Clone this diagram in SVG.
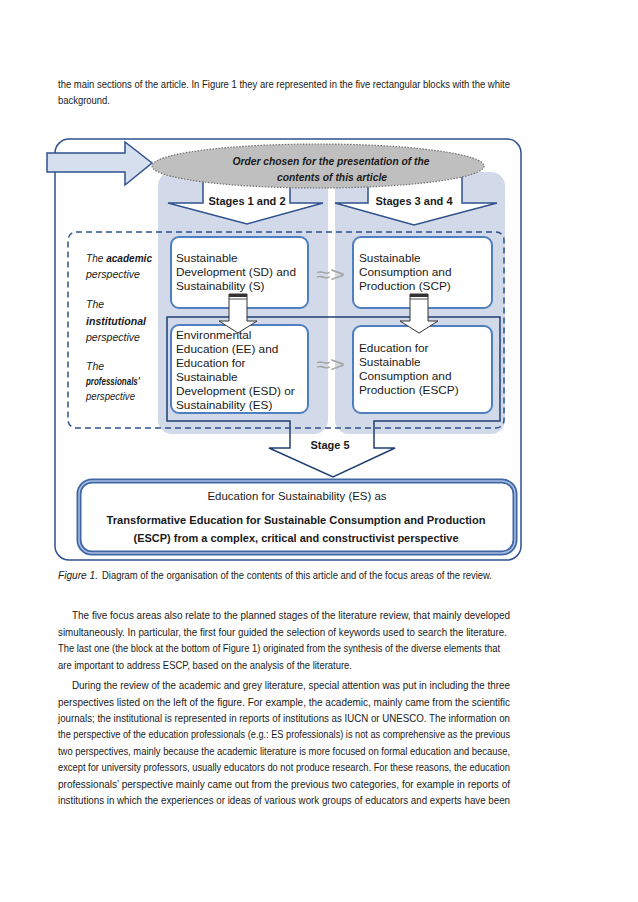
<svg xmlns="http://www.w3.org/2000/svg" width="638" height="902" viewBox="0 0 638 902">
<style>
text{font-family:"Liberation Sans",Arial,sans-serif;fill:#1a1a1a}
.p{font-size:11.8px}
.bx{font-size:11.8px}
.pers{font-size:10.5px;font-style:italic}
.lbl{font-size:11px;font-weight:bold}
.box{fill:#fff;stroke:#4f7fc0;stroke-width:2}
.col{fill:#d2dae9}
.frame{fill:none;stroke:#2f528f;stroke-width:1.5}
.sarrow{fill:#fff;stroke:#2f528f;stroke-width:1.5}
.small{fill:#fff;stroke:#333;stroke-width:1}
.apx{font-size:22px;fill:#a6a6a6}
</style>
<rect width="638" height="902" fill="#fff"/>

<g id="top-text">
<text class="p" x="58" y="88" textLength="452" lengthAdjust="spacingAndGlyphs">the main sections of the article. In Figure 1 they are represented in the five rectangular blocks with the white</text>
<text class="p" x="58" y="104" textLength="52" lengthAdjust="spacingAndGlyphs">background.</text>
</g>

<g id="frame">
<rect class="frame" x="55" y="139" width="466" height="421" rx="14"/>
</g>

<g id="columns">
<rect class="col" x="158" y="172" width="170" height="262" rx="14"/>
<rect class="col" x="335" y="172" width="170" height="262" rx="14"/>
</g>

<g id="connectors">
<polygon id="stages12" class="sarrow" points="203,176 290,176 290,203 323,203 247,224 168,203 203,203"/>
<polygon id="stages34" class="sarrow" points="368,176 462,176 462,203 497,203 414,225 335,203 368,203"/>
<polygon id="stage5" fill="none" stroke="#1f3f74" stroke-width="1.5" points="167,317 500,317 500,421 374,421 374,448 395,448 333,477 269,448 290,448 290,421 167,421"/>
</g>

<g id="big-arrow">
<polygon points="47,153 125,153 125,142 152,163 125,185 125,172 47,172" fill="#d6dfee" stroke="#2f528f" stroke-width="1.5"/>
</g>

<g id="ellipse">
<ellipse cx="318" cy="166" rx="166" ry="22" fill="#bfbfbf" stroke="#6f6f6f" stroke-width="1.2" stroke-dasharray="1.5 1.5"/>
<text x="331" y="165" text-anchor="middle" font-size="11" font-weight="bold" font-style="italic" textLength="197" lengthAdjust="spacingAndGlyphs">Order chosen for the presentation of the</text>
<text x="332" y="181" text-anchor="middle" font-size="11" font-weight="bold" font-style="italic" textLength="110" lengthAdjust="spacingAndGlyphs">contents of this article</text>
</g>

<g id="stage-labels">
<text class="lbl" x="247" y="205" text-anchor="middle">Stages 1 and 2</text>
<text class="lbl" x="414" y="205" text-anchor="middle">Stages 3 and 4</text>
<text class="lbl" x="330" y="449" text-anchor="middle">Stage 5</text>
</g>

<g id="perspectives">
<rect x="68" y="232" width="436" height="196" rx="8" fill="none" stroke="#2f528f" stroke-width="1.5" stroke-dasharray="6 4"/>
<text class="pers" x="86" y="262" textLength="66" lengthAdjust="spacingAndGlyphs"><tspan>The </tspan><tspan font-weight="bold">academic</tspan></text>
<text class="pers" x="86" y="278" textLength="54" lengthAdjust="spacingAndGlyphs">perspective</text>
<text class="pers" x="86" y="308">The</text>
<text class="pers" x="86" y="325" font-weight="bold" textLength="60" lengthAdjust="spacingAndGlyphs">institutional</text>
<text class="pers" x="86" y="341" textLength="54" lengthAdjust="spacingAndGlyphs">perspective</text>
<text class="pers" x="86" y="370" font-size="9.5px">The</text>
<text class="pers" x="86" y="385" font-size="9.5px" font-weight="bold" textLength="54" lengthAdjust="spacingAndGlyphs">professionals’</text>
<text class="pers" x="86" y="400" font-size="9.5px" textLength="49" lengthAdjust="spacingAndGlyphs">perspective</text>
</g>

<g id="box-sd">
<rect class="box" x="171" y="237" width="137" height="71" rx="8"/>
<text class="bx" x="176" y="262">Sustainable</text>
<text class="bx" x="176" y="276">Development (SD) and</text>
<text class="bx" x="176" y="290">Sustainability (S)</text>
</g>

<g id="box-scp">
<rect class="box" x="353" y="237" width="139" height="71" rx="8"/>
<text class="bx" x="359" y="262">Sustainable</text>
<text class="bx" x="359" y="276">Consumption and</text>
<text class="bx" x="359" y="290">Production (SCP)</text>
</g>

<g id="box-ee">
<rect class="box" x="171" y="325" width="137" height="88" rx="8"/>
<text class="bx" x="176" y="339">Environmental</text>
<text class="bx" x="176" y="353">Education (EE) and</text>
<text class="bx" x="176" y="367">Education for</text>
<text class="bx" x="176" y="381">Sustainable</text>
<text class="bx" x="176" y="395">Development (ESD) or</text>
<text class="bx" x="176" y="409">Sustainability (ES)</text>
</g>

<g id="box-escp">
<rect class="box" x="353" y="326" width="139" height="87" rx="8"/>
<text class="bx" x="359" y="352">Education for</text>
<text class="bx" x="359" y="366">Sustainable</text>
<text class="bx" x="359" y="380">Consumption and</text>
<text class="bx" x="359" y="394">Production (ESCP)</text>
</g>

<g id="small-arrows">
<polygon class="small" points="229,294 247,294 247,321 257,321 238,333 219,321 229,321"/>
<rect x="229" y="294" width="18" height="3" fill="#333"/>
<line x1="229" y1="299" x2="247" y2="299" stroke="#555" stroke-width="1"/>
<polygon class="small" points="410,294 428,294 428,321 438,321 419,333 400,321 410,321"/>
<rect x="410" y="294" width="18" height="3" fill="#333"/>
<line x1="410" y1="299" x2="428" y2="299" stroke="#555" stroke-width="1"/>
</g>

<g id="approx">
<text class="apx" x="316" y="282" textLength="29" lengthAdjust="spacingAndGlyphs">≈&gt;</text>
<text class="apx" x="316" y="372" textLength="29" lengthAdjust="spacingAndGlyphs">≈&gt;</text>
</g>

<g id="box-es">
<rect x="79" y="481" width="436" height="72" rx="13" fill="#fff" stroke="#3f67a6" stroke-width="5"/>
<rect x="79" y="481" width="436" height="72" rx="13" fill="none" stroke="#aabfe2" stroke-width="1.5"/>
<text x="297" y="500" text-anchor="middle" font-size="11.8" textLength="179" lengthAdjust="spacingAndGlyphs">Education for Sustainability (ES) as</text>
<text x="296" y="524" text-anchor="middle" font-size="11.8" font-weight="bold" textLength="379" lengthAdjust="spacingAndGlyphs">Transformative Education for Sustainable Consumption and Production</text>
<text x="296" y="542" text-anchor="middle" font-size="11.8" font-weight="bold" textLength="325" lengthAdjust="spacingAndGlyphs">(ESCP) from a complex, critical and constructivist perspective</text>
</g>

<g id="caption">
<text class="p" x="58" y="579" font-style="italic" textLength="40" lengthAdjust="spacingAndGlyphs">Figure 1.</text>
<text class="p" x="102" y="579" textLength="390" lengthAdjust="spacingAndGlyphs">Diagram of the organisation of the contents of this article and of the focus areas of the review.</text>
</g>

<g id="paragraphs">
<text class="p" x="72" y="619" textLength="438" lengthAdjust="spacingAndGlyphs">The five focus areas also relate to the planned stages of the literature review, that mainly developed</text>
<text class="p" x="58" y="636" textLength="449" lengthAdjust="spacingAndGlyphs">simultaneously. In particular, the first four guided the selection of keywords used to search the literature.</text>
<text class="p" x="58" y="652" textLength="442" lengthAdjust="spacingAndGlyphs">The last one (the block at the bottom of Figure 1) originated from the synthesis of the diverse elements that</text>
<text class="p" x="58" y="669" textLength="294" lengthAdjust="spacingAndGlyphs">are important to address ESCP, based on the analysis of the literature.</text>
<text class="p" x="72" y="689" textLength="438" lengthAdjust="spacingAndGlyphs">During the review of the academic and grey literature, special attention was put in including the three</text>
<text class="p" x="58" y="706" textLength="452" lengthAdjust="spacingAndGlyphs">perspectives listed on the left of the figure. For example, the academic, mainly came from the scientific</text>
<text class="p" x="58" y="722" textLength="452" lengthAdjust="spacingAndGlyphs">journals; the institutional is represented in reports of institutions as IUCN or UNESCO. The information on</text>
<text class="p" x="58" y="738" textLength="452" lengthAdjust="spacingAndGlyphs">the perspective of the education professionals (e.g.: ES professionals) is not as comprehensive as the previous</text>
<text class="p" x="58" y="755" textLength="452" lengthAdjust="spacingAndGlyphs">two perspectives, mainly because the academic literature is more focused on formal education and because,</text>
<text class="p" x="58" y="771" textLength="452" lengthAdjust="spacingAndGlyphs">except for university professors, usually educators do not produce research. For these reasons, the education</text>
<text class="p" x="58" y="788" textLength="452" lengthAdjust="spacingAndGlyphs">professionals’ perspective mainly came out from the previous two categories, for example in reports of</text>
<text class="p" x="58" y="804" textLength="452" lengthAdjust="spacingAndGlyphs">institutions in which the experiences or ideas of various work groups of educators and experts have been</text>
</g>
</svg>
